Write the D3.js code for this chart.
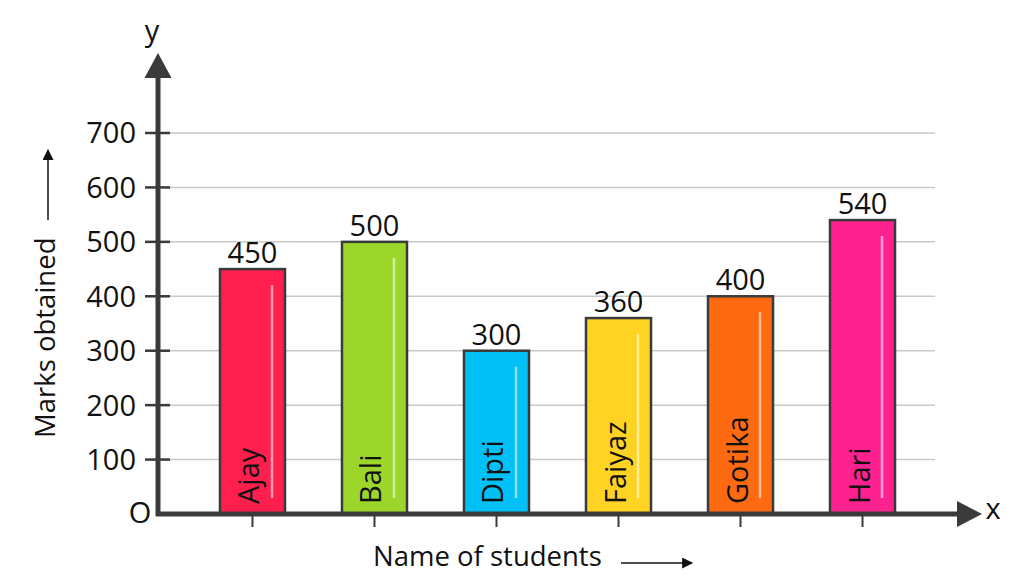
<!DOCTYPE html>
<html>
<head>
<meta charset="utf-8">
<script src="https://cdn.jsdelivr.net/npm/d3@7"></script>
<style>
  html, body { margin: 0; padding: 0; background: #fff; }
  svg { display: block; font-family: 'Open Sans', sans-serif; font-weight: 500; }
</style>
</head>
<body>
<svg id="chart"></svg>
<script>
const students = ['Ajay', 'Bali', 'Dipti', 'Faiyaz', 'Gotika', 'Hari']
const marks = [450, 500, 300, 360, 400, 540]
const barColors = ['#fe1f4f', '#9cd62b', '#00c0f5', '#fed324', '#fe6a12', '#fe2290']
const yTicks = [100, 200, 300, 400, 500, 600, 700]

const width = 1018; const height = 579
const axisColor = '#3a3a3a'
const svg = d3.select('#chart').attr('width', width).attr('height', height)
  .attr('viewBox', `0 0 ${width} ${height}`)

const x = d3.scaleBand().domain(students).range([163, 952]).padding(0.467)
const y = d3.scaleLinear().domain([0, 700]).range([514, 133])
const originX = 158

// grid lines
svg.append('g').selectAll('line').data(yTicks).enter().append('line')
  .attr('x1', originX).attr('x2', 935)
  .attr('y1', d => y(d)).attr('y2', d => y(d))
  .attr('stroke', '#c9c9c9').attr('stroke-width', 1.5)

// y ticks and labels
const yAxis = svg.append('g')
yAxis.selectAll('line').data(yTicks).enter().append('line')
  .attr('x1', 145).attr('x2', 170)
  .attr('y1', d => y(d)).attr('y2', d => y(d))
  .attr('stroke', axisColor).attr('stroke-width', 2.5)
yAxis.selectAll('text').data(yTicks).enter().append('text')
  .attr('x', 136).attr('y', d => y(d)).attr('dy', '0.36em')
  .attr('text-anchor', 'end').attr('font-size', 29).attr('fill', '#111')
  .text(d => d)

// x ticks
svg.append('g').selectAll('line').data(students).enter().append('line')
  .attr('x1', d => x(d) + x.bandwidth() / 2).attr('x2', d => x(d) + x.bandwidth() / 2)
  .attr('y1', y(0)).attr('y2', y(0) + 13)
  .attr('stroke', axisColor).attr('stroke-width', 2)

// bars
const bars = svg.append('g').selectAll('g').data(students).enter().append('g')
bars.append('rect')
  .attr('x', d => x(d)).attr('width', x.bandwidth())
  .attr('y', (d, i) => y(marks[i])).attr('height', (d, i) => y(0) - y(marks[i]))
  .attr('fill', (d, i) => barColors[i])
  .attr('stroke', axisColor).attr('stroke-width', 2.5)
bars.append('line')
  .attr('x1', d => x(d) + x.bandwidth() - 13).attr('x2', d => x(d) + x.bandwidth() - 13)
  .attr('y1', (d, i) => y(marks[i]) + 16).attr('y2', y(0) - 16)
  .attr('stroke', '#fff').attr('stroke-opacity', 0.55).attr('stroke-width', 2.5)
bars.append('text')
  .attr('transform', d => `translate(${x(d) + x.bandwidth() / 2 + 7},${y(0) - 10}) rotate(-90)`)
  .attr('font-size', 29).attr('fill', '#111')
  .text(d => d)
bars.append('text')
  .attr('x', d => x(d) + x.bandwidth() / 2).attr('y', (d, i) => y(marks[i]) - 6)
  .attr('text-anchor', 'middle').attr('font-size', 29).attr('fill', '#111')
  .text((d, i) => marks[i])

// axes with arrow heads
svg.append('line').attr('x1', originX).attr('x2', originX).attr('y1', y(0) + 2).attr('y2', 72)
  .attr('stroke', axisColor).attr('stroke-width', 5)
svg.append('path').attr('d', `M${originX - 13.5},78 L${originX},53 L${originX + 13.5},78 Z`).attr('fill', axisColor)
svg.append('line').attr('x1', originX - 2).attr('x2', 962).attr('y1', y(0)).attr('y2', y(0))
  .attr('stroke', axisColor).attr('stroke-width', 5)
svg.append('path').attr('d', `M957,${y(0) - 13} L982,${y(0)} L957,${y(0) + 13} Z`).attr('fill', axisColor)

svg.append('text').attr('x', 152).attr('y', 41).attr('text-anchor', 'middle')
  .attr('font-size', 29).attr('fill', '#111').text('y')
svg.append('text').attr('x', 993).attr('y', 519).attr('text-anchor', 'middle')
  .attr('font-size', 29).attr('fill', '#111').text('x')
svg.append('text').attr('x', 140).attr('y', 523).attr('text-anchor', 'middle')
  .attr('font-size', 29).attr('fill', '#111').text('O')

// axis titles with arrows
svg.append('defs').append('marker').attr('id', 'tip')
  .attr('viewBox', '0 0 10 10').attr('refX', 9).attr('refY', 5)
  .attr('markerWidth', 12).attr('markerHeight', 11).attr('markerUnits', 'userSpaceOnUse')
  .attr('orient', 'auto')
  .append('path').attr('d', 'M0,0 L10,5 L0,10 Z').attr('fill', '#111')

svg.append('text').attr('transform', 'translate(55,438) rotate(-90)')
  .attr('font-size', 27.5).attr('fill', '#111').text('Marks obtained')
svg.append('line').attr('x1', 48).attr('x2', 48).attr('y1', 220).attr('y2', 150)
  .attr('stroke', '#111').attr('stroke-width', 1.5).attr('marker-end', 'url(#tip)')

svg.append('text').attr('x', 373).attr('y', 566)
  .attr('font-size', 27.5).attr('fill', '#111').text('Name of students')
svg.append('line').attr('x1', 621).attr('x2', 692).attr('y1', 563).attr('y2', 563)
  .attr('stroke', '#111').attr('stroke-width', 1.5).attr('marker-end', 'url(#tip)')
</script>
</body>
</html>
